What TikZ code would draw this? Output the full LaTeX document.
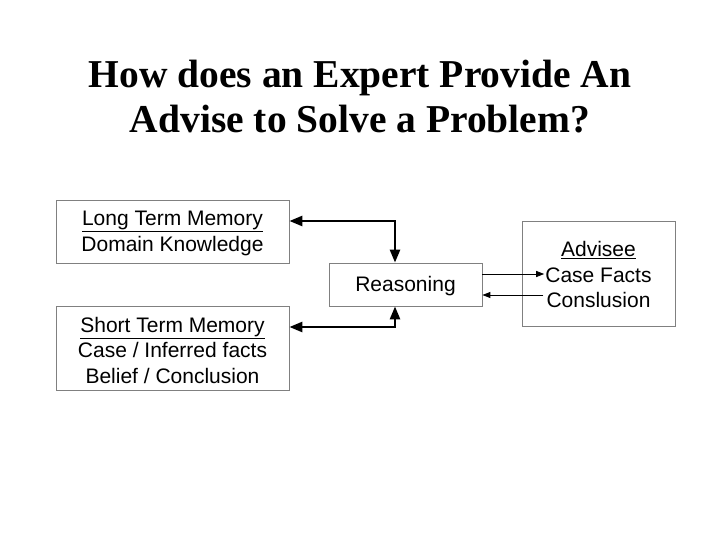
\documentclass[tikz,border=0pt]{standalone}
\usepackage{fontspec}
\setmainfont{Liberation Serif}
\newfontfamily\arialf{Liberation Sans}
\usetikzlibrary{arrows.meta}
\begin{document}
\begin{tikzpicture}[x=1pt,y=-1pt,
  box/.style={draw=black!50,line width=0.8pt,inner sep=0pt,anchor=center},
  txt/.style={font=\arialf\fontsize{21}{25.5}\selectfont,align=center,inner sep=0pt,anchor=center},
  thickarr/.style={line width=2.6pt,{Triangle[length=13pt,width=10pt]}-{Triangle[length=13pt,width=10pt]}},
  thinarr/.style={line width=0.9pt,-{Triangle[length=8pt,width=6pt]}}]
\useasboundingbox (0,0) rectangle (720,540);
\node[font=\bfseries\fontsize{39.5}{45}\selectfont,align=center,anchor=center] (title) at (360,97) {How does an Expert Provide An\\Advise to Solve a Problem?};
\node[box,minimum width=233pt,minimum height=63pt] (ltm) at (172.5,231.5) {};
\node[txt] (ltmt) at (172.5,233.5) {\underline{Long Term Memory}\\Domain Knowledge};
\node[box,minimum width=233pt,minimum height=84pt] (stm) at (172.5,348) {};
\node[txt] (stmt) at (172.5,350) {\underline{Short Term Memory}\\Case / Inferred facts\\Belief / Conclusion};
\node[box,minimum width=153pt,minimum height=43pt] (rea) at (405.5,284.5) {};
\node[txt] (reat) at (405.5,286) {Reasoning};
\node[box,minimum width=153pt,minimum height=105pt] (adv) at (598.5,273.5) {};
\node[txt] (advt) at (598.5,250) {\underline{Advisee}};
\node[txt] (cf) at (598.5,275) {Case Facts};
\node[txt] (cc) at (598.5,300) {Conslusion};
\draw[thickarr] ([yshift=10.5pt]ltm.east) -| ([xshift=-10.5pt]rea.north);
\draw[thickarr] ([yshift=21pt]stm.east) -| ([xshift=-10.5pt]rea.south);
\draw[thinarr] ([yshift=10.5pt]rea.east) -- ([xshift=-1pt]cf.west |- 0,274);
\draw[thinarr] ([xshift=-3pt]cc.west |- 0,295) -- ([yshift=-10.5pt]rea.east);
\end{tikzpicture}
\end{document}
